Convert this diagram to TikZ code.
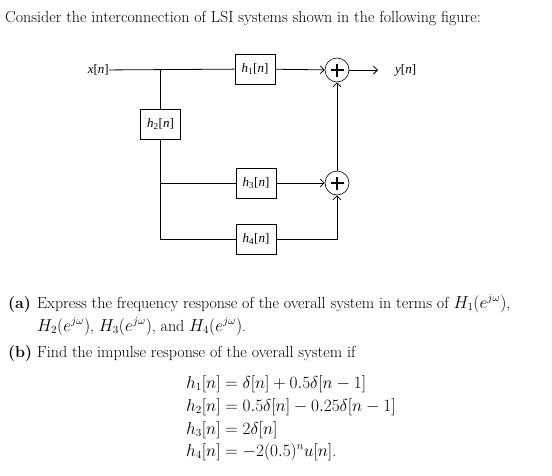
\documentclass[tikz,border=0pt]{standalone}
\usepackage{fontspec}
\newfontfamily\tms{Liberation Serif}
\usetikzlibrary{arrows.meta}
\begin{document}
\begin{tikzpicture}[x=1pt,y=-1pt,
 sys/.style={draw, minimum width=40pt, minimum height=30pt, inner sep=0pt, line width=0.6pt, font=\tms\fontsize{13}{15}\selectfont},
 lbl/.style={inner sep=0pt, font=\tms\fontsize{13}{15}\selectfont},
 adder/.style={draw, circle, minimum size=24pt, inner sep=0pt, line width=0.6pt},
 wire/.style={line width=0.8pt},
 arr/.style={wire,-{Straight Barb[length=4pt,width=8pt]}},
 txt/.style={anchor=base west, inner sep=0pt, font=\fontsize{16}{19}\selectfont}]
\useasboundingbox (0,0) rectangle (552,475);

\node[txt] (intro) at (5,22) {Consider the interconnection of LSI systems shown in the following figure:};

% block diagram
\node[lbl, anchor=east] (x) at (109,70) {\textit{x}[\textit{n}]};
\node[sys] (h1) at (255,69) {\textit{h}\textsubscript{1}[\textit{n}]};
\node[sys] (h2) at (160.5,124) {\textit{h}\textsubscript{2}[\textit{n}]};
\node[sys] (h3) at (256,183) {\textit{h}\textsubscript{3}[\textit{n}]};
\node[sys] (h4) at (256,239) {\textit{h}\textsubscript{4}[\textit{n}]};
\node[adder] (s1) at (337,70) {};
\node[adder] (s2) at (337,183) {};
\foreach \s in {s1,s2}{
  \draw[line width=2.4pt] ([xshift=-6.5pt]\s.center) -- ([xshift=6.5pt]\s.center);
  \draw[line width=2.4pt] ([yshift=-6.5pt]\s.center) -- ([yshift=6.5pt]\s.center);
}
\coordinate (b1) at (160.5,70);
\coordinate (b2) at (160.5,183);
\coordinate (b3) at (160.5,239);
\coordinate (c4) at (337,239);
\coordinate (yend) at (378,70);
\node[lbl, anchor=west] (y) at (395,70) {\textit{y}[\textit{n}]};

\draw[wire] (x) -- (h1);
\draw[arr] (h1) -- (s1);
\draw[arr] (s1) -- (yend);
\draw[wire] (b1) -- (h2);
\draw[wire] (h2) -- (b3) -- (h4);
\draw[wire] (b2) -- (h3);
\draw[arr] (h3) -- (s2);
\draw[arr] (h4) -- (c4) -- (s2);
\draw[arr] (s2) -- (s1);

% questions
\node[txt] (qa) at (8,308) {\textbf{(a)}};
\node[txt] (qa1) at (37,308) {Express the frequency response of the overall system in terms of $H_1(e^{j\omega})$,};
\node[txt] (qa2) at (37,331) {$H_2(e^{j\omega})$, $H_3(e^{j\omega})$, and $H_4(e^{j\omega})$.};
\node[txt] (qb) at (8,357) {\textbf{(b)}};
\node[txt] (qb1) at (37,357) {Find the impulse response of the overall system if};
\node[txt] (e1) at (186,388) {$h_1[n]=\delta[n]+0.5\delta[n-1]$};
\node[txt] (e2) at (186,411) {$h_2[n]=0.5\delta[n]-0.25\delta[n-1]$};
\node[txt] (e3) at (186,434) {$h_3[n]=2\delta[n]$};
\node[txt] (e4) at (186,456) {$h_4[n]=-2(0.5)^nu[n]$.};
\end{tikzpicture}
\end{document}
